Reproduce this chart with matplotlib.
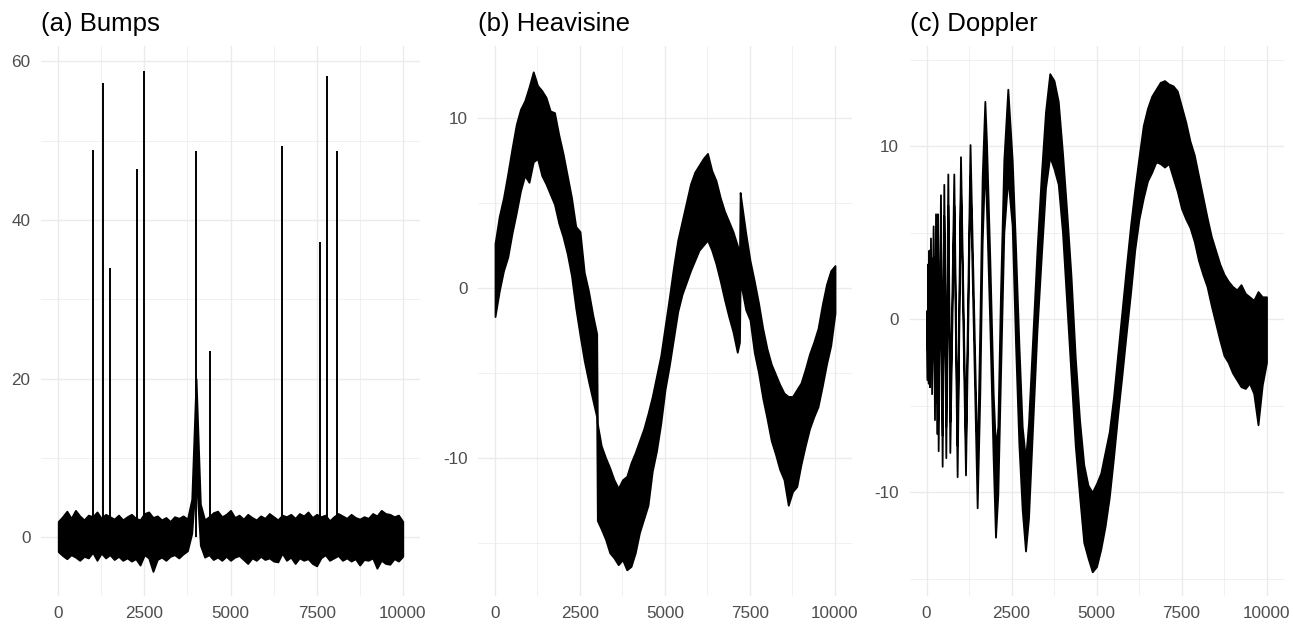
import matplotlib
matplotlib.use("Agg")
import matplotlib.pyplot as plt
from matplotlib.ticker import FixedLocator

plt.rcParams['font.family'] = ['Liberation Sans', 'DejaVu Sans']
plt.rcParams['axes.unicode_minus'] = False

# values: top / bottom edge of the noisy trace at each x

# (a) Bumps - baseline band every 125 samples, narrow peaks listed apart
bumps_x = list(range(0, 10001, 125))
bumps_upper = [2.0, 2.6, 3.3, 2.4, 3.4, 2.7, 2.2, 2.8, 2.6, 3.2, 2.4, 2.9, 2.6, 2.3, 2.8, 2.2,
               2.6, 2.9, 2.4, 2.2, 3.0, 3.2, 2.5, 2.7, 2.2, 2.5, 2.0, 2.6, 2.4, 2.7, 2.3, 4.8,
               20.0, 4.2, 2.2, 2.6, 3.1, 3.3, 2.6, 2.9, 3.4, 2.5, 2.8, 2.3, 2.9, 2.5, 2.2, 2.7,
               2.4, 3.0, 2.6, 2.2, 2.8, 2.6, 2.9, 2.4, 3.0, 2.7, 3.2, 2.5, 2.9, 2.6, 2.8, 2.1,
               2.6, 3.0, 2.7, 2.4, 2.9, 2.5, 2.3, 2.6, 2.4, 3.0, 2.7, 3.4, 3.0, 2.9, 2.6, 2.8,
               2.0]
bumps_lower = [-1.8, -2.3, -2.7, -2.2, -2.5, -2.9, -2.4, -2.6, -1.9, -2.9, -2.0, -2.6, -2.2, -2.8, -2.4, -2.9,
               -2.6, -3.0, -2.7, -3.5, -2.2, -2.6, -4.3, -2.8, -2.5, -2.9, -2.4, -2.2, -2.6, -2.1, -1.7, 0.5,
               8.0, -1.0, -2.5, -2.2, -2.8, -2.5, -2.9, -2.4, -2.9, -2.5, -2.3, -2.8, -3.3, -2.6, -2.9, -2.4,
               -2.8, -2.6, -3.0, -3.1, -2.0, -2.9, -2.5, -3.3, -2.6, -2.9, -2.7, -3.3, -3.6, -2.6, -2.2, -2.9,
               -2.6, -2.3, -2.9, -2.6, -3.0, -2.7, -3.5, -2.8, -2.9, -2.6, -3.9, -2.9, -3.3, -3.4, -2.7, -3.0,
               -2.4]
bumps_peak_x = [1000, 1300, 1500, 2300, 2500, 4000, 4400, 6500, 7600, 7800, 8100]
bumps_peak_y = [48.8, 57.3, 34.0, 46.4, 58.8, 48.75, 23.5, 49.3, 37.2, 58.2, 48.7]

# (b) Heavisine - jumps near 3000 and 7200
heavi_x = (list(range(0, 3000, 125)) + [2990, 3010] + list(range(3125, 7200, 125))
           + [7190, 7210] + list(range(7250, 10001, 125)))
heavi_upper = [2.6, 4.2, 5.3, 6.7, 8.2, 9.6, 10.5, 11.0, 11.8, 12.7, 11.9, 11.6, 11.2, 10.4, 10.3, 9.0,
               7.9, 6.6, 5.3, 3.6, 3.3, 0.9, -0.2, -1.6,
               -2.7, -8.0,
               -9.3, -10.0, -10.6, -11.3, -11.8, -11.3, -11.1, -10.3, -9.7, -9.0, -8.3, -7.4, -6.4, -5.2,
               -4.0, -2.3, -0.6, 1.2, 2.8, 3.9, 5.0, 6.1, 6.8, 7.2, 7.6, 7.9, 6.9, 6.3, 5.3, 4.5,
               3.9, 3.3, 2.5,
               2.0, 5.6,
               5.0, 3.2, 1.6, 0.4, -0.9, -2.4, -3.6, -4.5, -5.1, -5.7, -6.2, -6.4, -6.4, -6.0, -5.6,
               -4.8, -3.9, -3.2, -2.4, -1.0, 0.2, 1.0, 1.3]
heavi_lower = [-1.7, -0.2, 1.0, 1.8, 3.2, 4.4, 5.7, 6.6, 6.2, 7.4, 7.6, 6.6, 6.1, 5.5, 4.9, 3.8,
               3.0, 2.0, 0.7, -1.2, -2.8, -4.3, -5.5, -6.6,
               -7.6, -13.7,
               -14.2, -14.8, -15.6, -15.9, -16.3, -16.0, -16.6, -16.4, -15.6, -14.4, -13.6, -12.8, -10.8, -9.6,
               -8.0, -6.0, -4.6, -3.0, -1.4, -0.4, 0.3, 1.0, 1.6, 2.2, 2.5, 2.8, 2.2, 1.4, 0.4, -0.7,
               -1.7, -2.6, -3.8,
               -3.2, 0.4,
               0.0, -1.3, -1.9, -3.8, -5.0, -6.5, -7.7, -9.0, -9.8, -10.7, -11.3, -12.8, -12.0, -11.7, -10.4,
               -9.3, -8.3, -7.6, -7.0, -5.8, -4.5, -3.4, -1.5]

# (c) Doppler - every peak / trough of the fast part, then every 125 samples
doppler_x = ([0, 19, 35, 52, 70, 88, 117, 150, 195, 235, 265, 300, 320, 343, 411, 460, 509, 568,
              627, 686, 803, 901, 1000, 1147, 1280, 1490, 1568, 1637, 1716, 1765, 1863, 1961,
              2029, 2098, 2176, 2274, 2392, 2520, 2618, 2716, 2814, 2912]
             + list(range(3000, 10001, 125)))
doppler_upper = [0.5, -1.7, 3.2, -1.9, 4.0, -2.1, 4.7, -2.5, 5.4, -4.0, 6.1, -4.8, 6.1, -5.8,
                 7.2, -6.7, 7.8, -6.2, 8.4, -5.9, 8.4, -7.3, 9.4, -7.2, 10.1, -8.6, -0.4, 8.2,
                 12.6, 10.2, 3.4, -4.3, -7.4, -6.2, 1.5, 9.2, 13.3, 9.2, 4.2, -1.4, -6.2, -8.1,
                 -6.0, -1.0, 4.0, 8.3, 12.0, 14.2, 13.8, 12.6,
                 9.6, 6.2, 2.5, -2.2, -5.8, -8.4, -9.6, -10.0,
                 -9.5, -8.9, -7.7, -6.5, -4.5, -2.0, 0.5, 3.0,
                 5.4, 7.5, 9.4, 11.2, 12.2, 12.9, 13.3, 13.7,
                 13.8, 13.6, 13.5, 13.2, 12.3, 11.4, 10.3, 9.5,
                 8.3, 7.1, 5.9, 4.8, 4.0, 3.2, 2.6, 2.2,
                 1.9, 1.7, 2.0, 1.5, 1.3, 1.1, 1.6, 1.3,
                 1.3]
doppler_lower = [-1.5, -3.5, 1.4, -3.7, 2.2, -3.9, 2.9, -4.3, 3.6, -5.8, 4.3, -6.6, 4.3, -7.6,
                 5.4, -8.5, 6.0, -8.0, 6.6, -7.7, 6.6, -9.1, 7.6, -9.0, 8.3, -10.9, -4.3, 4.4,
                 9.2, 6.3, -0.4, -8.1, -12.6, -10.1, -3.3, 5.0, 8.2, 5.4, -1.4, -7.2, -11.0, -13.4,
                 -11.5, -6.0, -0.6, 3.6, 7.6, 9.4, 8.7, 7.8,
                 5.0, 0.9, -3.2, -7.3, -10.2, -12.9, -13.8, -14.6,
                 -14.3, -13.3, -12.0, -10.3, -8.0, -5.5, -3.2, -0.8,
                 1.5, 4.0, 5.8, 7.0, 8.0, 8.5, 9.1, 9.0,
                 8.8, 9.0, 8.2, 7.4, 6.4, 5.8, 5.3, 4.5,
                 3.4, 2.6, 1.9, 0.8, -0.2, -1.2, -2.1, -2.5,
                 -3.1, -3.5, -3.9, -4.0, -3.7, -4.3, -6.1, -3.8,
                 -2.5]

panels = [
    ("(a) Bumps", bumps_x, bumps_upper, bumps_lower,
     [0, 20, 40, 60], [10, 30, 50], (-7.4, 61.95), 41, 379),
    ("(b) Heavisine", heavi_x, heavi_upper, heavi_lower,
     [-10, 0, 10], [-15, -5, 5], (-18.14, 14.22), 478, 374),
    ("(c) Doppler", doppler_x, doppler_upper, doppler_lower,
     [-10, 0, 10], [-15, -5, 5, 15], (-16.0, 15.8), 909.5, 374),
]

W, H = 1293, 634
fig = plt.figure(figsize=(W / 100, H / 100), dpi=100)

axes = []
for title, xs, up, lo, yt, ymin, ylim, left, width in panels:
    ax = fig.add_axes([left / W, 38 / H, width / W, 550 / H])
    ax.fill_between(xs, lo, up, color='black', edgecolor='black', linewidth=1.3)
    ax.set_xlim(-500, 10500)
    ax.set_ylim(*ylim)
    ax.xaxis.set_major_locator(FixedLocator([0, 2500, 5000, 7500, 10000]))
    ax.xaxis.set_minor_locator(FixedLocator([1250, 3750, 6250, 8750]))
    ax.yaxis.set_major_locator(FixedLocator(yt))
    ax.yaxis.set_minor_locator(FixedLocator(ymin))
    ax.set_xticklabels(['0', '2500', '5000', '7500', '10000'])
    ax.set_yticklabels([str(v) for v in yt])
    ax.grid(which='major', color='#EBEBEB', linewidth=1.0)
    ax.grid(which='minor', color='#EBEBEB', linewidth=0.5)
    ax.set_axisbelow(True)
    for s in ax.spines.values():
        s.set_visible(False)
    ax.tick_params(which='both', length=0, labelsize=12.3, labelcolor='#4D4D4D', pad=7.5)
    ax.text(0, 1.027, title, transform=ax.transAxes, fontsize=18.5, color='black',
            ha='left', va='baseline')
    axes.append(ax)

# the narrow bumps
axes[0].vlines(bumps_peak_x, 0, bumps_peak_y, color='black', linewidth=1.4)

fig.savefig('out.png', dpi=100, facecolor='white')
